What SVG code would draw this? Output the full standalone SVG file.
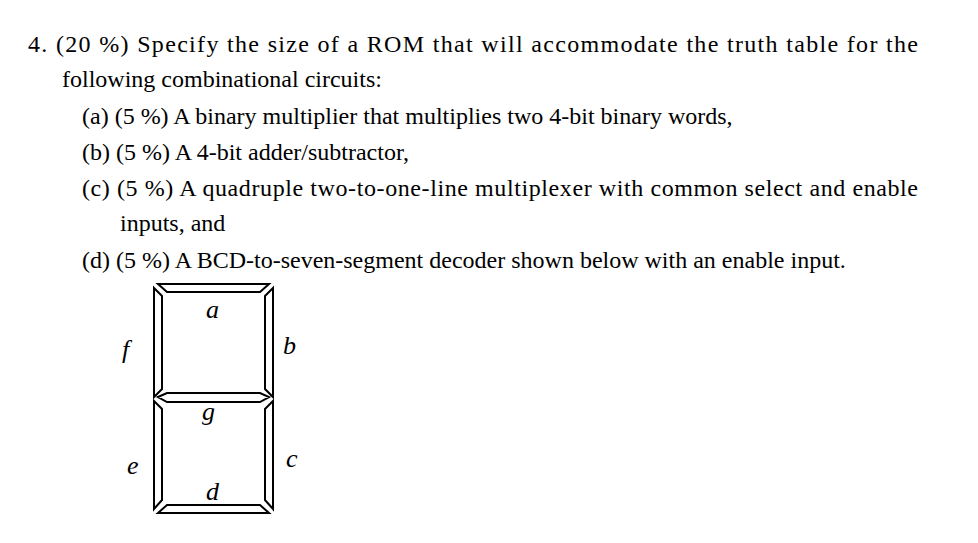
<svg xmlns="http://www.w3.org/2000/svg" width="978" height="543" viewBox="0 0 978 543">
<style>
text{font-family:"Liberation Serif","Times New Roman",serif;font-size:24px;fill:#000}
.l{font-style:italic;font-size:26px}
.s{fill:#fff;stroke:#000;stroke-width:2;stroke-linejoin:miter}
</style>
<rect width="978" height="543" fill="#fff"/>
<g id="text">
<text x="28" y="52" textLength="890" lengthAdjust="spacing">4. (20 %) Specify the size of a ROM that will accommodate the truth table for the</text>
<text x="62" y="87">following combinational circuits:</text>
<text x="82" y="124">(a) (5 %) A binary multiplier that multiplies two 4-bit binary words,</text>
<text x="82" y="160">(b) (5 %) A 4-bit adder/subtractor,</text>
<text x="82" y="196" textLength="836" lengthAdjust="spacing">(c) (5 %) A quadruple two-to-one-line multiplexer with common select and enable</text>
<text x="120" y="231">inputs, and</text>
<text x="82" y="268">(d) (5 %) A BCD-to-seven-segment decoder shown below with an enable input.</text>
</g>
<g id="display">
<polygon class="s" points="158,284 269,284 260,292 167,292"/>
<polygon class="s" points="154,288 162,296 162,389 154,397"/>
<polygon class="s" points="273,288 265,296 265,389 273,397"/>
<polygon class="s" points="158,397 167,393 260,393 269,397 260,402 167,402"/>
<polygon class="s" points="154,401 162,409 162,500 154,509"/>
<polygon class="s" points="273,401 265,409 265,500 273,509"/>
<polygon class="s" points="158,513 167,505 260,505 269,513"/>
<text class="l" x="206" y="318">a</text>
<text class="l" x="122" y="358">f</text>
<text class="l" x="283" y="354">b</text>
<text class="l" x="202" y="420">g</text>
<text class="l" x="127" y="474">e</text>
<text class="l" x="286" y="467">c</text>
<text class="l" x="206" y="500">d</text>
</g>
</svg>
